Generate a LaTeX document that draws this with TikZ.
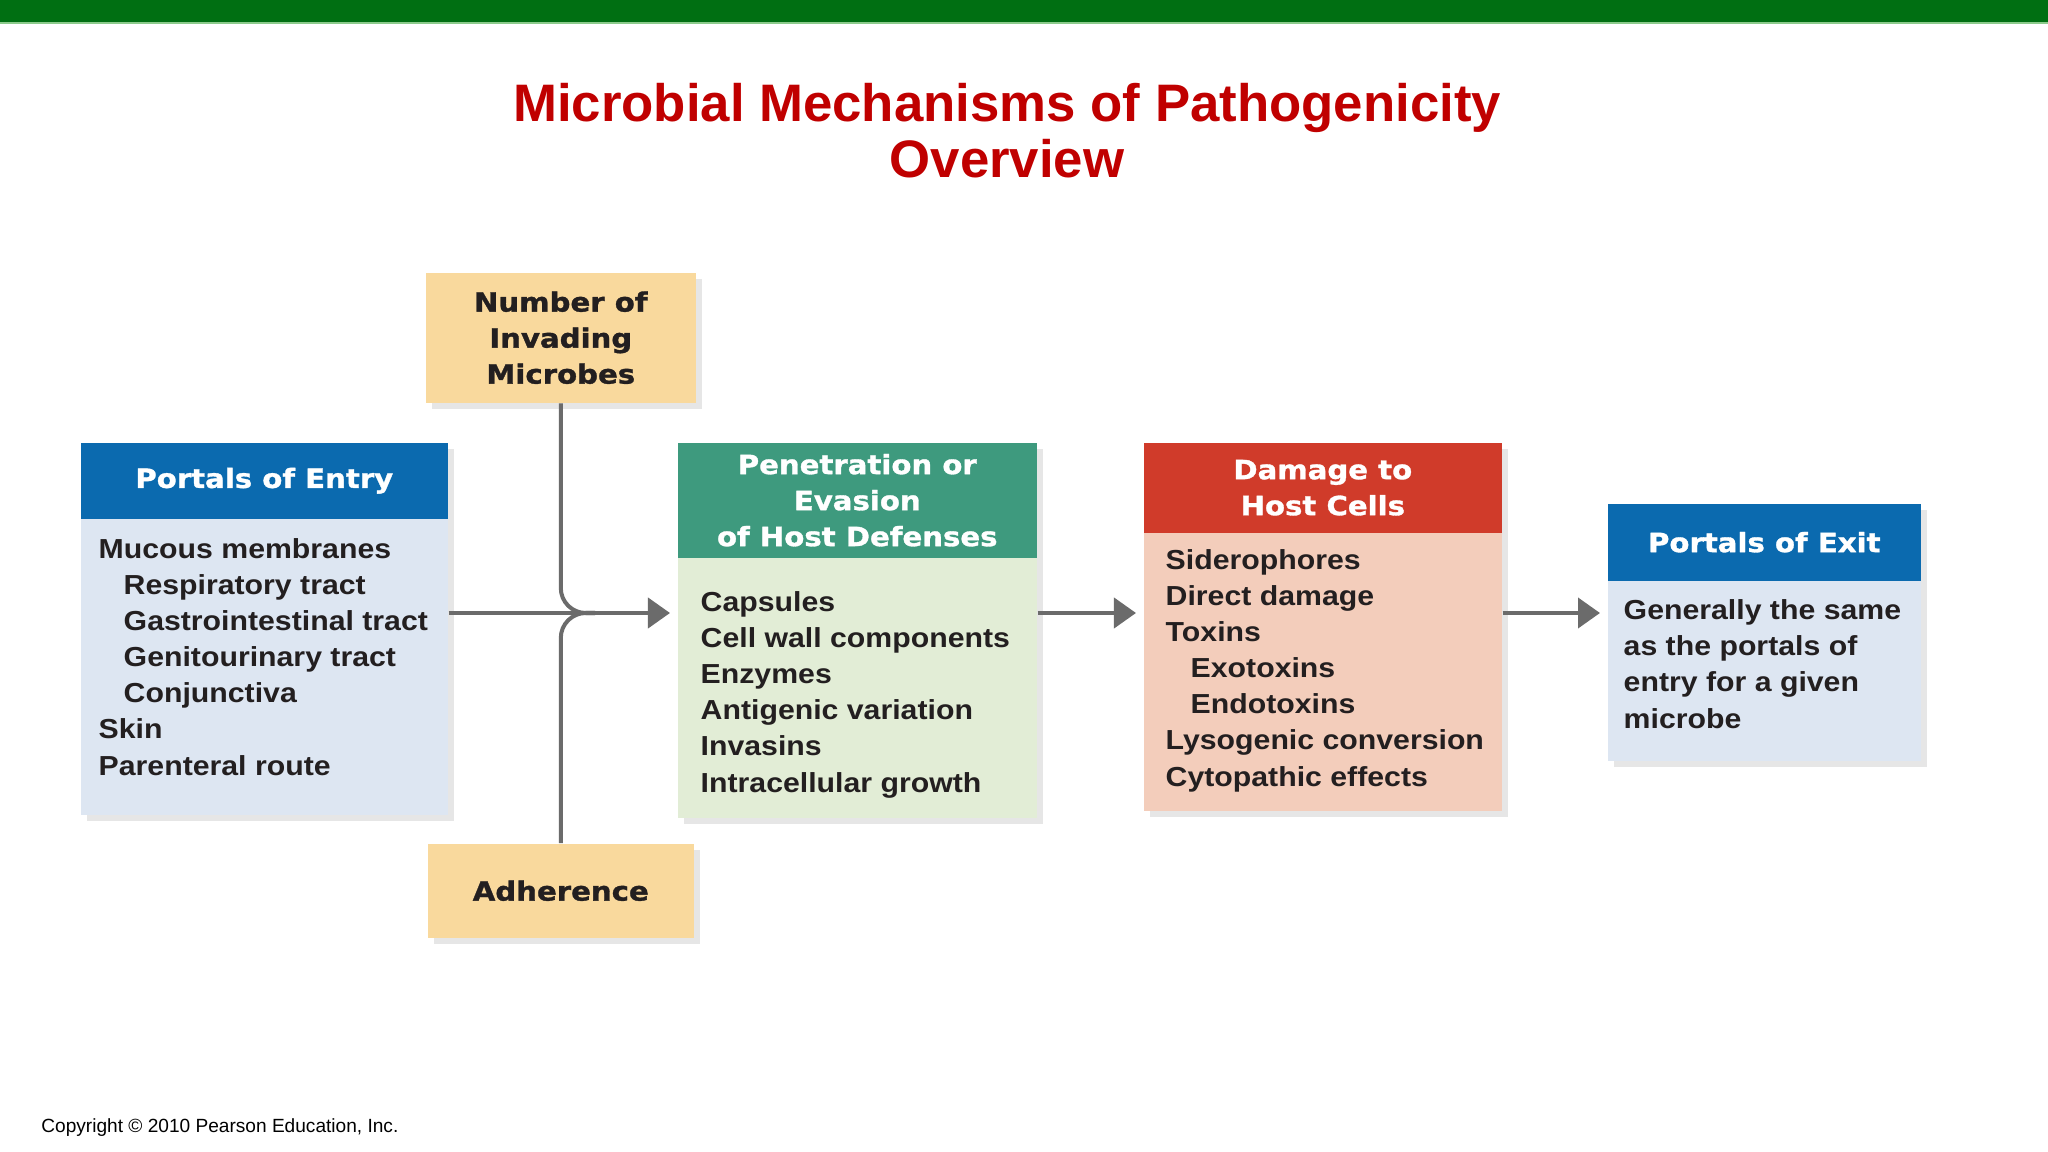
\documentclass[tikz,border=0pt]{standalone}
\usepackage{fontspec}
\setmainfont{Liberation Sans}
\newfontfamily\headfont{DejaVu Sans}[FakeStretch=1.1,FakeBold=1.2]
\newfontfamily\bodyfont{Liberation Sans}[FakeStretch=1.1]
\usetikzlibrary{positioning,arrows.meta,shadows}
\definecolor{cBar}{HTML}{006F12}
\definecolor{cBarL}{HTML}{8CCB8C}
\definecolor{cTitle}{HTML}{C00000}
\definecolor{cEntryH}{HTML}{0B6AAF}
\definecolor{cEntryB}{HTML}{DDE6F2}
\definecolor{cPenH}{HTML}{3E9A7E}
\definecolor{cPenB}{HTML}{E2EDD6}
\definecolor{cDamH}{HTML}{D03B2A}
\definecolor{cDamB}{HTML}{F3CDBB}
\definecolor{cFactor}{HTML}{F9D99D}
\definecolor{cInk}{HTML}{231F20}
\definecolor{cArrow}{HTML}{6B6B6B}
\newcommand{\subline}{\hspace*{0.25cm}}

\begin{document}
\begin{tikzpicture}[
  x=0.01cm,y=-0.01cm,
  panel/.style={inner sep=0pt,anchor=north west,
    drop shadow={opacity=0.2,shadow xshift=0.06cm,shadow yshift=-0.06cm}},
  head/.style={inner sep=0pt,anchor=north,text=white,align=center,
    font=\headfont\bfseries\fontsize{7.54}{10.24}\selectfont},
  body/.style={inner sep=0pt,anchor=base west,align=left,text=cInk,
    font=\bodyfont\bfseries\fontsize{7.82}{10.24}\selectfont},
  factor/.style={panel,fill=cFactor,text=cInk,align=center,
    font=\headfont\bfseries\fontsize{7.54}{10.24}\selectfont},
  flow/.style={-{Triangle[length=0.22cm,width=0.3cm]},line width=0.04cm,cArrow,shorten >=0.07cm},
  link/.style={line width=0.04cm,cArrow,rounded corners=0.25cm},
]
\useasboundingbox (0,0) rectangle (2048,1152);

% ---------- TOP BAR + TITLE ----------
\fill[cBar] (0,0) rectangle (2048,22);
\fill[cBarL] (0,22) rectangle (2048,24);
% base of a multi-line node = its last line
\node[anchor=base,align=center,text=cTitle,font=\bfseries\fontsize{15}{15.93}\selectfont] (title) at (1007,178)
  {Microbial Mechanisms of Pathogenicity\\Overview};

% ---------- PORTALS OF ENTRY ----------
\node[panel,fill=cEntryB,minimum width=3.67cm,minimum height=3.72cm] (entry) at (80,442) {};
\node[head,fill=cEntryH,minimum width=3.67cm,minimum height=0.76cm] (entryHead) at (entry.north) {Portals of Entry};
\node[body] (entryText) at (98,775)
  {Mucous membranes\\ \subline Respiratory tract\\ \subline Gastrointestinal tract\\
   \subline Genitourinary tract\\ \subline Conjunctiva\\ Skin\\ Parenteral route};

% ---------- FACTORS ----------
\node[factor,minimum width=2.70cm,minimum height=1.30cm] (number) at (425,272) {Number of\\Invading\\Microbes};
\node[factor,minimum width=2.66cm,minimum height=0.94cm] (adher) at (427,843) {Adherence};

% ---------- PENETRATION / EVASION ----------
\node[panel,fill=cPenB,minimum width=3.59cm,minimum height=3.75cm] (pen) at (677,442) {};
\node[head,fill=cPenH,minimum width=3.59cm,minimum height=1.15cm] (penHead) at (pen.north)
  {Penetration or\\Evasion\\of Host Defenses};
\node[body] (penText) at (700,792)
  {Capsules\\ Cell wall components\\ Enzymes\\ Antigenic variation\\ Invasins\\ Intracellular growth};

% ---------- DAMAGE ----------
\node[panel,fill=cDamB,minimum width=3.58cm,minimum height=3.68cm] (dam) at (1143,442) {};
\node[head,fill=cDamH,minimum width=3.58cm,minimum height=0.90cm] (damHead) at (dam.north) {Damage to\\Host Cells};
\node[body] (damText) at (1165,786)
  {Siderophores\\ Direct damage\\ Toxins\\ \subline Exotoxins\\ \subline Endotoxins\\
   Lysogenic conversion\\ Cytopathic effects};

% ---------- PORTALS OF EXIT ----------
\node[panel,fill=cEntryB,minimum width=3.13cm,minimum height=2.57cm] (exit) at (1607,503) {};
\node[head,fill=cEntryH,minimum width=3.13cm,minimum height=0.77cm] (exitHead) at (exit.north) {Portals of Exit};
\node[body] (exitText) at (1623,728)
  {Generally the same\\ as the portals of\\ entry for a given\\ microbe};

% ---------- ARROWS ----------
\coordinate (jn) at (557,613);
\coordinate (jr) at (595,613);
\draw[link] (number.south) |- (jr);
\draw[link] (adher.north) |- (jr);
\draw[flow] (entry.east |- jn) -- (pen.west |- jn);
\draw[flow] (pen.east |- jn) -- (dam.west |- jn);
\draw[flow] (dam.east |- jn) -- (exit.west |- jn);

\node[anchor=base west,font=\fontsize{5.43}{6.5}\selectfont] (copy) at (29,1132)
  {Copyright © 2010 Pearson Education, Inc.};
\end{tikzpicture}
\end{document}
